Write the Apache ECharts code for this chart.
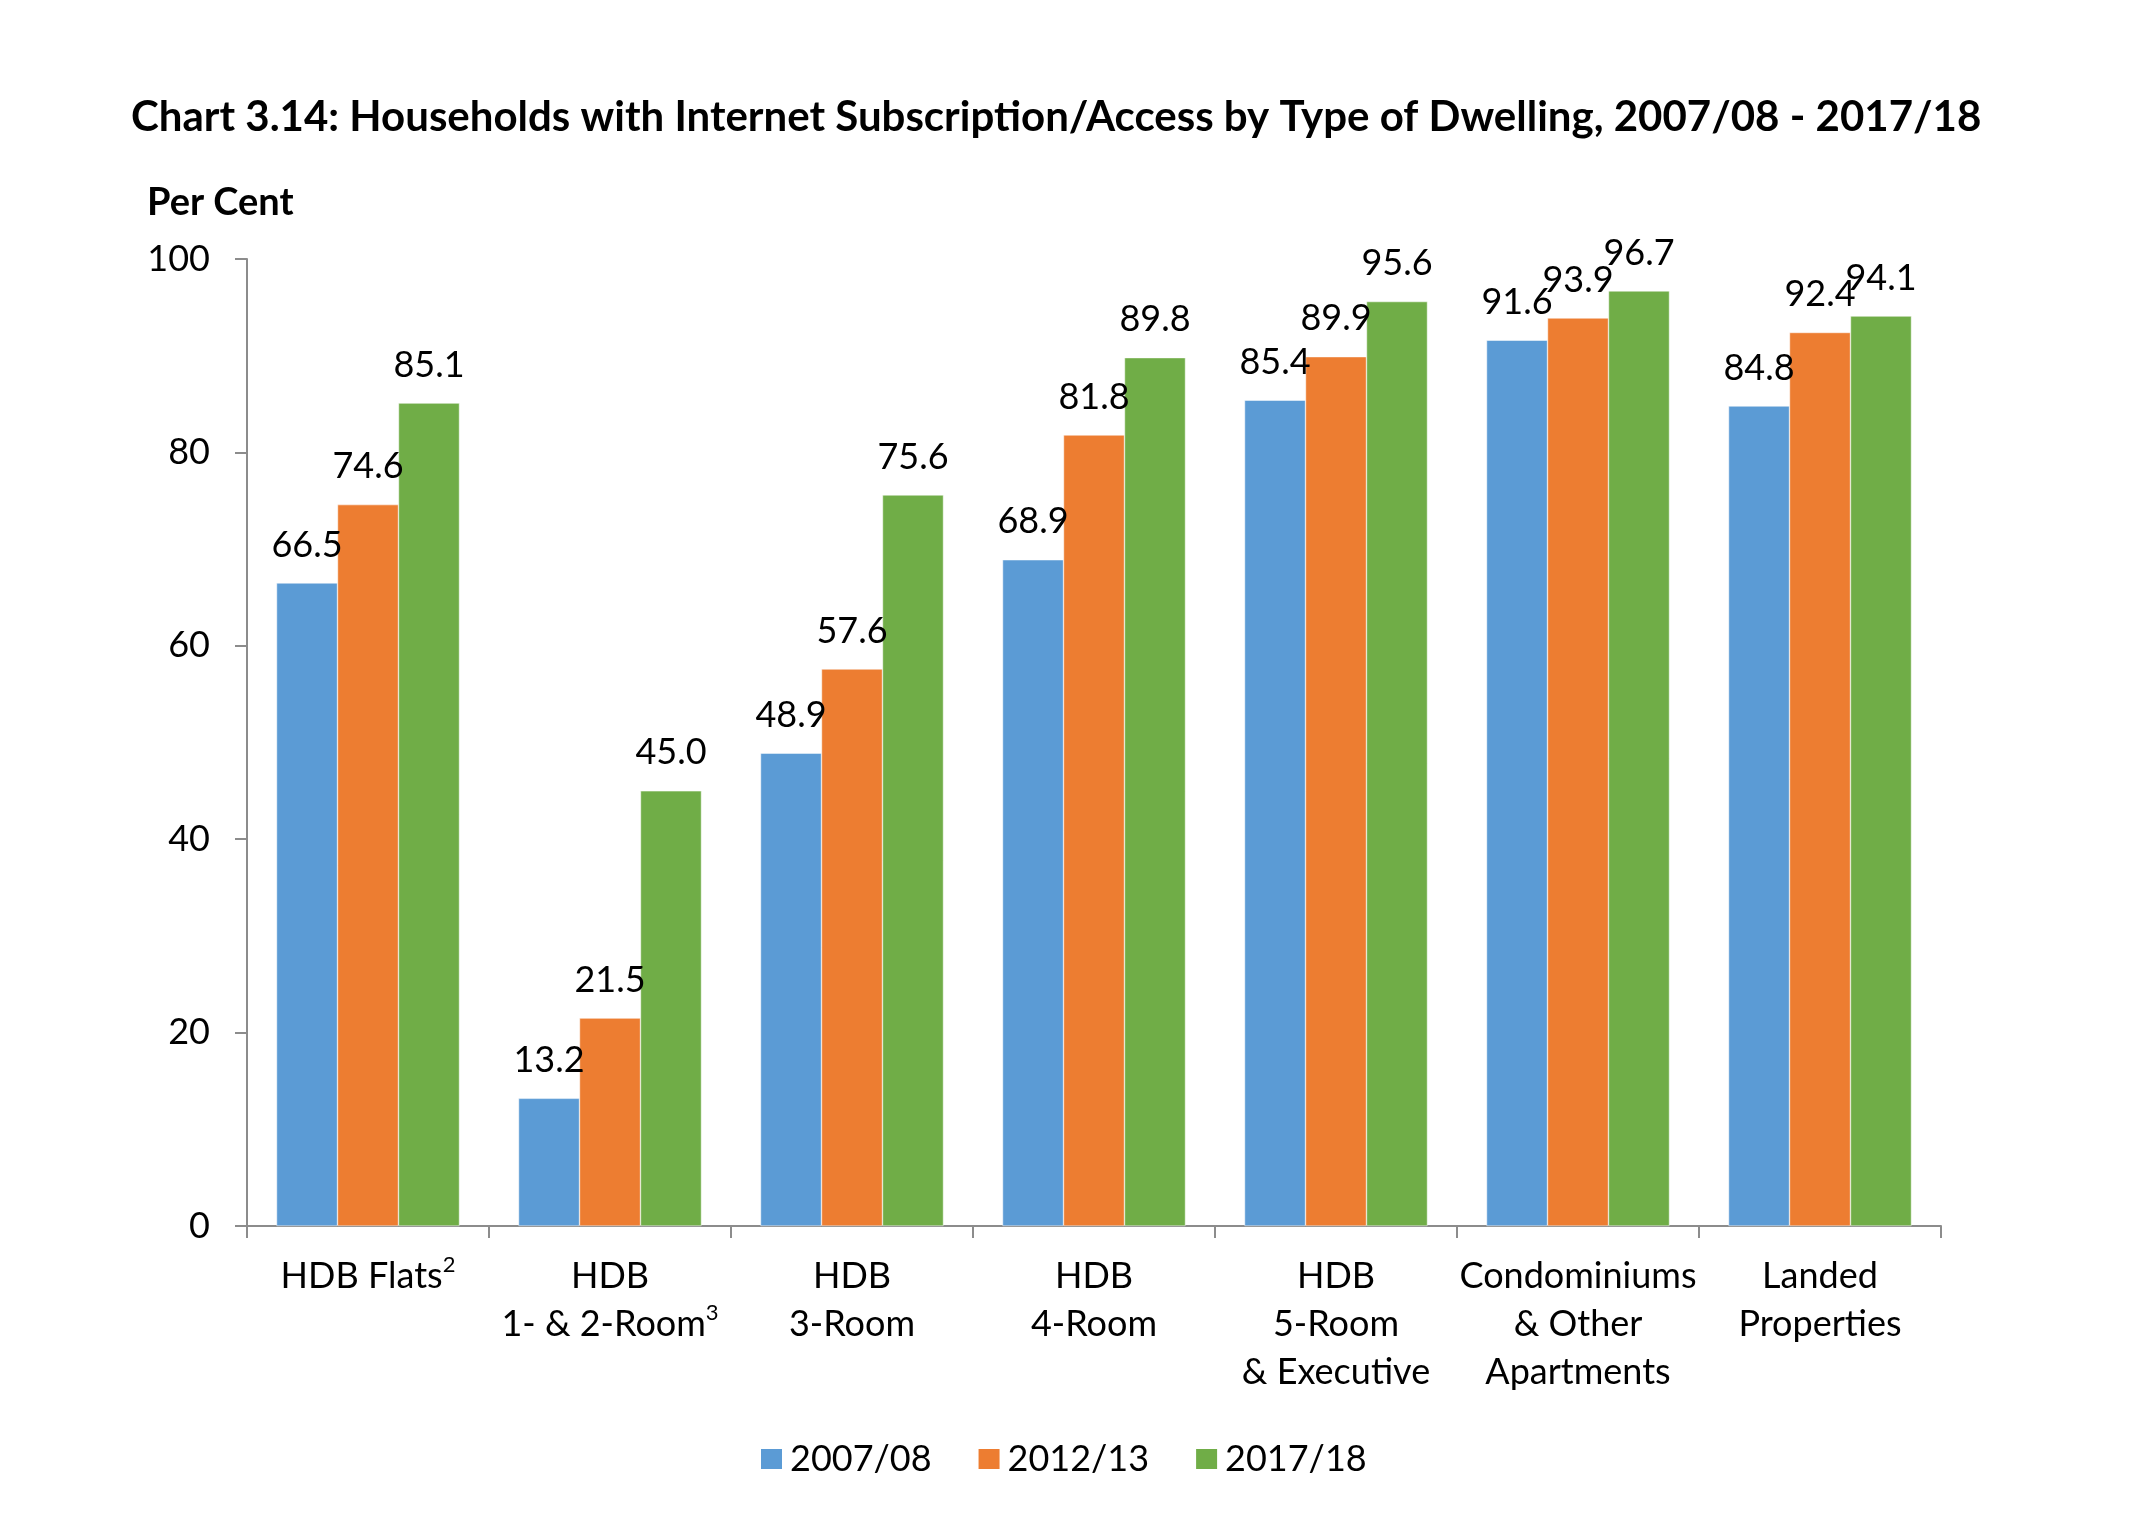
<!DOCTYPE html>
<html lang="en">
<head>
    <meta charset="UTF-8">
    <title>Chart 3.14</title>
    <script src="https://cdn.jsdelivr.net/npm/echarts@6/dist/echarts.min.js"></script>
    <style>
        html, body { margin: 0; padding: 0; background: #fff; }
        #myChart { width: 2140px; height: 1536px; }
    </style>
</head>
<body>
<div id="myChart"></div>
<script type="text/javascript">
    // 数据
    var categories = [
        'HDB Flats{sup|2}',
        'HDB\n1- & 2-Room{sup|3}',
        'HDB\n3-Room',
        'HDB\n4-Room',
        'HDB\n5-Room\n& Executive',
        'Condominiums\n& Other\nApartments',
        'Landed\nProperties'
    ];
    var seriesNames = ['2007/08', '2012/13', '2017/18'];
    var data0708 = [66.5, 13.2, 48.9, 68.9, 85.4, 91.6, 84.8];
    var data1213 = [74.6, 21.5, 57.6, 81.8, 89.9, 93.9, 92.4];
    var data1718 = [85.1, 45.0, 75.6, 89.8, 95.6, 96.7, 94.1];
    var yTicks = [0, 20, 40, 60, 80, 100];

    var colors = ['#5B9BD5', '#ED7D31', '#70AD47'];
    var font = 'Lato';
    var axisColor = '#8c8c8c';

    function makeSeries(name, values, color) {
        return {
            name: name,
            type: 'bar',
            data: values,
            barGap: 0,
            barCategoryGap: '24.4%',
            itemStyle: {color: color, borderColor: '#ffffff', borderWidth: 0.5},
            label: {
                show: true,
                position: 'top',
                distance: 20,
                color: '#000',
                fontFamily: font,
                fontSize: 36,
                formatter: function (p) {
                    return p.value.toFixed(1);
                }
            }
        };
    }

    var myChart = echarts.init(document.getElementById('myChart'));
    var option = {
        backgroundColor: '#fff',
        animation: false,
        title: [{
            text: 'Chart 3.14: Households with Internet Subscription/Access by Type of Dwelling, 2007/08 - 2017/18',
            left: 126,
            top: 91,
            textStyle: {fontFamily: font, fontWeight: 'bold', fontSize: 42, color: '#000'}
        }, {
            text: 'Per Cent',
            left: 142,
            top: 179,
            textStyle: {fontFamily: font, fontWeight: 'bold', fontSize: 38, color: '#000'}
        }],
        legend: {
            bottom: 54,
            left: 754,
            itemWidth: 23,
            itemHeight: 22,
            itemGap: 45,
            icon: 'rect',
            textStyle: {fontFamily: font, fontSize: 36, color: '#000', padding: [0, 0, 0, 2]},
            data: seriesNames
        },
        grid: {left: 247, right: 199, top: 259, bottom: 310, containLabel: false},
        xAxis: {
            type: 'category',
            data: categories,
            axisLine: {lineStyle: {color: axisColor, width: 2}},
            axisTick: {show: true, length: 12, lineStyle: {color: axisColor, width: 2}},
            axisLabel: {
                interval: 0,
                margin: 26,
                color: '#000',
                fontFamily: font,
                fontSize: 36,
                lineHeight: 48,
                rich: {
                    sup: {fontSize: 22, fontFamily: font, color: '#000', lineHeight: 48, padding: [0, 0, 22, 0]}
                }
            }
        },
        yAxis: {
            type: 'value',
            min: 0,
            max: 100,
            interval: 20,
            axisLine: {show: true, lineStyle: {color: axisColor, width: 2}},
            axisTick: {show: true, length: 12, lineStyle: {color: axisColor, width: 2}},
            splitLine: {show: false},
            axisLabel: {margin: 37, color: '#000', fontFamily: font, fontSize: 36}
        },
        series: [
            makeSeries(seriesNames[0], data0708, colors[0]),
            makeSeries(seriesNames[1], data1213, colors[1]),
            makeSeries(seriesNames[2], data1718, colors[2])
        ]
    };
    myChart.setOption(option);
</script>
</body>
</html>
